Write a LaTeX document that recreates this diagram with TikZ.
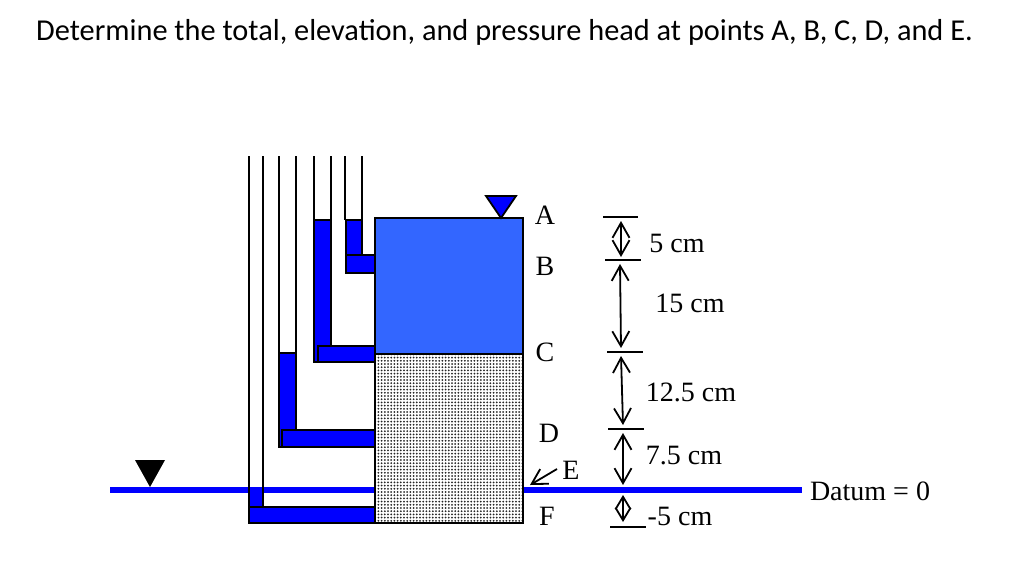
\documentclass[tikz,border=0pt]{standalone}
\usepackage{fontspec}
\setmainfont{Liberation Serif}
\newfontfamily\titlefont{Carlito}
\usetikzlibrary{arrows.meta,patterns}
\pgfdeclarepatternformonly{sanddots}{\pgfqpoint{-1pt}{-1pt}}{\pgfqpoint{4pt}{4pt}}{\pgfqpoint{3.2pt}{3.2pt}}{%
  \pgfpathcircle{\pgfqpoint{0.8pt}{0.8pt}}{1pt}\pgfusepath{fill}}
\definecolor{water}{RGB}{0,0,255}
\definecolor{tankblue}{RGB}{51,102,255}
\tikzset{
  wall/.style={draw=black,line width=2.6pt},
  tubewall/.style={draw=black,line width=2.6pt},
  wet/.style={fill=water,draw=black,line width=2.6pt},
  tick/.style={draw=black,line width=1.8pt},
  barb/.tip={Straight Barb[length=15pt,width=17pt,line width=1.8pt]},
  sbarb/.tip={Straight Barb[length=12.5pt,width=15pt,line width=1.8pt]},
  dim/.style={draw=black,line width=1.8pt,barb-barb},
  sdim/.style={draw=black,line width=1.8pt,sbarb-sbarb},
  lab/.style={font=\fontsize{28}{32}\selectfont,inner sep=0pt,text=black},
}
\begin{document}
\begin{tikzpicture}[x=1pt,y=-1pt]
\useasboundingbox (0,0) rectangle (1024,576);
\node[inner sep=0pt,font=\titlefont\fontsize{30.35}{34}\selectfont] (title) at (504.5,32) {Determine the total, elevation, and pressure head at points A, B, C, D, and E.};
% datum water line
\coordinate (dl) at (110,490); \coordinate (dr) at (802,490);
\draw[water,line width=6pt] (dl) -- (dr);
% tube 1
\draw[tubewall] (249,156) -- (249,490) (263,156) -- (263,490);
\fill[water] (249,487) rectangle (263,507);
\draw[tubewall] (249,487) -- (249,507) (263,487) -- (263,507);
\draw[wet] (249,507) rectangle (375,523);
% tube 2
\draw[tubewall] (279,156) -- (279,353) (296,156) -- (296,353);
\draw[wet] (279,353) -- (296,353) -- (296,430) -- (282,430) -- (282,447) -- (279,447) -- cycle;
\draw[wet] (282,430) rectangle (375,447);
% tube 3
\draw[tubewall] (314,156) -- (314,220) (331,156) -- (331,220);
\draw[wet] (314,220) -- (331,220) -- (331,346) -- (318,346) -- (318,362) -- (314,362) -- cycle;
\draw[wet] (318,346) rectangle (375,362);
% tube 4
\draw[tubewall] (345,156) -- (345,220) (362,156) -- (362,220);
\draw[wet] (346,220) rectangle (362,255);
\draw[wet] (346,255) rectangle (375,273);
% tank
\fill[white] (375,354) rectangle (523,523);
\fill[pattern=sanddots,pattern color=black!85] (375,354) rectangle (523,523);
\fill[tankblue] (375,218) rectangle (523,354);
\draw[wall] (375,218) rectangle (523,523);
\draw[wall] (375,354) -- (523,354);
% free surface markers
\draw[fill=water,draw=black,line width=1.8pt] (486,196) -- (516,196) -- (501,218) -- cycle;
\fill[black] (135,460) -- (165,460) -- (150,487) -- cycle;
% point labels
\node[lab] (A) at (545,215) {A};
\node[lab] (B) at (545,266) {B};
\node[lab] (C) at (545,352) {C};
\node[lab] (D) at (549,433) {D};
\node[lab] (E) at (571,470) {E};
\node[lab] (F) at (547,516) {F};
\coordinate (etip) at (530,485);
\draw[draw=black,line width=1.8pt,-barb] (557,469) -- (etip);
% dimension ticks
\coordinate (t1l) at (603,217); \coordinate (t1r) at (638,217);
\coordinate (t2l) at (605,260); \coordinate (t2r) at (641,260);
\coordinate (t3l) at (607,352); \coordinate (t3r) at (643,352);
\coordinate (t4l) at (608,429); \coordinate (t4r) at (644,429);
\coordinate (t5l) at (610,527); \coordinate (t5r) at (646,527);
\draw[tick] (t1l) -- (t1r);
\draw[tick] (t2l) -- (t2r);
\draw[tick] (t3l) -- (t3r);
\draw[tick] (t4l) -- (t4r);
\draw[tick] (t5l) -- (t5r);
% dimension arrows
\coordinate (a1) at (621,221); \coordinate (a2) at (621,257);
\coordinate (b1) at (620,264); \coordinate (b2) at (621,348);
\coordinate (c1) at (621,356); \coordinate (c2) at (623,425);
\coordinate (d1) at (623,433); \coordinate (d2) at (623,485);
\coordinate (e1) at (623,495); \coordinate (e2) at (623,522);
\draw[dim] (a1) -- (a2);
\draw[dim] (b1) -- (b2);
\draw[dim] (c1) -- (c2);
\draw[dim] (d1) -- (d2);
\draw[sdim] (e1) -- (e2);
% dimension labels
\node[lab] (l5) at (677,243) {5 cm};
\node[lab] (l15) at (690,303) {15 cm};
\node[lab] (l125) at (691,392) {12.5 cm};
\node[lab] (l75) at (684,456) {7.5 cm};
\node[lab] (lm5) at (680,516) {-5 cm};
\node[lab] (datum) at (870,491) {Datum = 0};
\end{tikzpicture}
\end{document}
